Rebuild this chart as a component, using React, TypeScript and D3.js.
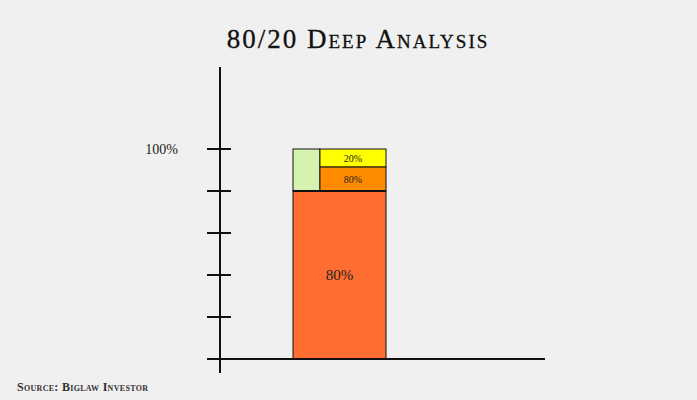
import React from "react";
import * as d3 from "d3";

const categories = ["Portfolio"];
const baseValue = [80];
const topValue = [20];
const baseLabel = ["80%"];
// top block split: left column share of width, then stacked sub-blocks on the right
const topLeftShare = [0.29];
const subLabels = ["20%", "80%"];
const subShares = [0.43, 0.57];
const yTicks = [0, 20, 40, 60, 80, 100];
const yTickLabels: Record<number, string> = { 100: "100%" };
const title = "80/20 Deep Analysis";
const source = "Source: Biglaw Investor";

const W = 697;
const H = 400;

export default function App() {
  const y = d3.scaleLinear().domain([0, 140]).range([359, 65]);
  const x = d3
    .scaleBand<string>()
    .domain(categories)
    .range([220, 459])
    .paddingInner(0)
    .paddingOuter(0.785);
  const serif = "'Liberation Serif', 'DejaVu Serif', serif";

  return (
    <svg
      width={W}
      height={H}
      style={{ position: "absolute", left: 0, top: 0, background: "#f0f0f0" }}
    >
      <rect width={W} height={H} fill="#f0f0f0" />
      <text
        x={358}
        y={48}
        textAnchor="middle"
        fontFamily={serif}
        fontSize={27}
        style={{ fontVariant: "small-caps", letterSpacing: "2px" }}
        fill="#111"
        stroke="#111"
        strokeWidth={0.3}
      >
        {title}
      </text>

      {categories.map((c, i) => {
        const x0 = x(c)!;
        const bw = x.bandwidth();
        const yBase = y(baseValue[i]);
        const yTop = y(baseValue[i] + topValue[i]);
        const topH = yBase - yTop;
        const inner = d3.scaleLinear().domain([0, 1]).range([x0, x0 + bw]);
        const xSplit = inner(topLeftShare[i]);
        const stack = d3.scaleLinear().domain([0, 1]).range([yTop, yBase]);
        let acc = 0;
        const subColors = ["#ffff00", "#ff8c00"];
        return (
          <g key={c}>
            <rect
              x={x0}
              y={yBase}
              width={bw}
              height={y(0) - yBase}
              fill="#ff6d31"
              stroke="#111"
              strokeWidth={1}
            />
            <text
              x={x0 + bw / 2}
              y={(yBase + y(0)) / 2 + 5}
              textAnchor="middle"
              fontFamily={serif}
              fontSize={15}
              fill="#222"
            >
              {baseLabel[i]}
            </text>
            <rect
              x={x0}
              y={yTop}
              width={xSplit - x0}
              height={topH}
              fill="#d5f2b0"
              stroke="#111"
              strokeWidth={1}
            />
            {subShares.map((s, j) => {
              const yy0 = stack(acc);
              acc += s;
              const yy1 = stack(acc);
              return (
                <g key={j}>
                  <rect
                    x={xSplit}
                    y={yy0}
                    width={x0 + bw - xSplit}
                    height={yy1 - yy0}
                    fill={subColors[j]}
                    stroke="#111"
                    strokeWidth={1}
                  />
                  <text
                    x={(xSplit + x0 + bw) / 2}
                    y={(yy0 + yy1) / 2 + 3.5}
                    textAnchor="middle"
                    fontFamily={serif}
                    fontSize={10}
                    fill="#222"
                  >
                    {subLabels[j]}
                  </text>
                </g>
              );
            })}
            <line
              x1={x0}
              x2={x0 + bw}
              y1={yBase}
              y2={yBase}
              stroke="#111"
              strokeWidth={2}
            />
          </g>
        );
      })}

      {/* y axis */}
      <line x1={220} x2={220} y1={y(140) + 2} y2={373} stroke="#111" strokeWidth={2} />
      {yTicks.map((t) => (
        <g key={t}>
          <line x1={207} x2={231} y1={y(t)} y2={y(t)} stroke="#111" strokeWidth={2} />
          {yTickLabels[t] && (
            <text
              x={178}
              y={y(t) + 5}
              textAnchor="end"
              fontFamily={serif}
              fontSize={14}
              fill="#222"
            >
              {yTickLabels[t]}
            </text>
          )}
        </g>
      ))}
      {/* x axis */}
      <line x1={207} x2={545} y1={y(0)} y2={y(0)} stroke="#111" strokeWidth={2} />

      <text
        x={17}
        y={391}
        fontFamily={serif}
        fontSize={12}
        fontWeight="bold"
        style={{ fontVariant: "small-caps", letterSpacing: "0.3px" }}
        fill="#333"
      >
        {source}
      </text>
    </svg>
  );
}
